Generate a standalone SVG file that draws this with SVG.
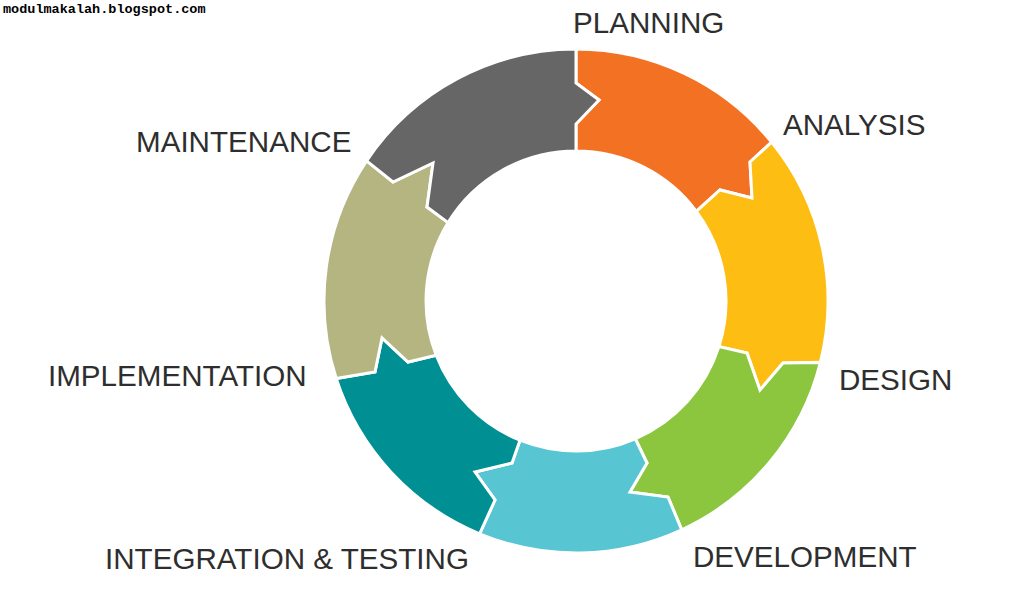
<svg xmlns="http://www.w3.org/2000/svg" width="1011" height="591" viewBox="0 0 1011 591">
<style>
.seg{stroke:#fff;stroke-width:3;stroke-linejoin:miter}
.lbl{font-family:"Liberation Sans",Arial,sans-serif;font-size:29.6px;fill:#2e2e2e}
.wm{font-family:"Liberation Mono","DejaVu Sans Mono",monospace;font-size:13.5px;font-weight:bold;fill:#000}
</style>
<rect width="1011" height="591" fill="#fff"/>
<text class="wm" x="3" y="13">modulmakalah.blogspot.com</text>
<g id="connectors"></g>
<g id="planning">
<path class="seg" fill="#F37122" d="M576,49 A252,252 0 0 1 771.6,142.1 L750,162 L752,198 L720,190 L696.3,211.4 A150,150 0 0 0 576,151 L576,124 L599,100 L576,83 Z"/>
<text class="lbl" x="573" y="33">PLANNING</text>
</g>
<g id="analysis">
<path class="seg" fill="#FDBD12" d="M771.6,142.1 A252,252 0 0 1 820.4,362.4 L783,363 L760,390 L747,353 L718.9,346.6 A150,150 0 0 0 696.3,211.4 L720,190 L752,198 L750,162 Z"/>
<text class="lbl" x="783" y="135">ANALYSIS</text>
</g>
<g id="design">
<path class="seg" fill="#8CC63F" d="M820.4,362.4 A252,252 0 0 1 681.7,529.8 L668,497 L630,492 L647,463 L635.3,438.8 A150,150 0 0 0 718.9,346.6 L747,353 L760,390 L783,363 Z"/>
<text class="lbl" x="839" y="390">DESIGN</text>
</g>
<g id="development">
<path class="seg" fill="#57C5D2" d="M681.7,529.8 A252,252 0 0 1 479.6,533.8 L495,500 L475,472 L512,463 L520,440.2 A150,150 0 0 0 635.3,438.8 L647,463 L630,492 L668,497 Z"/>
<text class="lbl" x="693" y="567">DEVELOPMENT</text>
</g>
<g id="integration-testing">
<path class="seg" fill="#008F93" d="M479.6,533.8 A252,252 0 0 1 336.2,378.5 L375,372 L382,338 L408,362 L436.2,355.2 A150,150 0 0 0 520,440.2 L512,463 L475,472 L495,500 Z"/>
<text class="lbl" x="105" y="569">INTEGRATION &amp; TESTING</text>
</g>
<g id="implementation">
<path class="seg" fill="#B5B581" d="M336.2,378.5 A252,252 0 0 1 366.6,160.8 L393,182 L433,163 L427,207 L448.1,222.6 A150,150 0 0 0 436.2,355.2 L408,362 L382,338 L375,372 Z"/>
<text class="lbl" x="48" y="386">IMPLEMENTATION</text>
</g>
<g id="maintenance">
<path class="seg" fill="#666666" d="M366.6,160.8 A252,252 0 0 1 576,49 L576,83 L599,100 L576,124 L576,151 A150,150 0 0 0 448.1,222.6 L427,207 L433,163 L393,182 Z"/>
<text class="lbl" x="136" y="152">MAINTENANCE</text>
</g>
</svg>
